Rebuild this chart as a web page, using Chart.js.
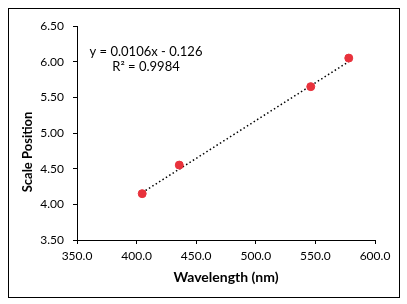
<!DOCTYPE html>
<html>
<head>
<meta charset="utf-8">
<script src="https://cdn.jsdelivr.net/npm/chart.js@4.4.1/dist/chart.umd.min.js"></script>
<style>
  html, body { margin: 0; padding: 0; background: #fff; }
  #wrap { width: 407px; height: 304px; }
</style>
</head>
<body>
<div id="wrap"><canvas id="scaleChart" width="407" height="304"></canvas></div>
<script>
// measured points
const wavelengths = [404.7, 435.8, 546.1, 578.0];
const scalePositions = [4.15, 4.55, 5.65, 6.05];
// trendline ends (as drawn in the picture)
const trendX = [404.7, 578.0];
const trendY = [4.164, 6.001];
const equationLines = ["y = 0.0106x - 0.126", "R² = 0.9984"];
const xTicks = [350, 400, 450, 500, 550, 600];
const yTicks = [3.5, 4.0, 4.5, 5.0, 5.5, 6.0, 6.5];

const FONT = "Lato, 'Open Sans', sans-serif";

const frame = {
  id: "frame",
  afterDraw(chart) {
    const ctx = chart.ctx;
    ctx.save();
    ctx.strokeStyle = "#000";
    ctx.lineWidth = 1;
    ctx.strokeRect(8.5, 8.5, 391, 289);

    ctx.fillStyle = "#000";
    ctx.font = "13px " + FONT;
    ctx.textAlign = "center";
    ctx.textBaseline = "middle";
    ctx.fillText(equationLines[0], 146, 52);
    ctx.fillText(equationLines[1], 146, 67);

    ctx.font = "bold 13px " + FONT;
    ctx.translate(28, 152);
    ctx.rotate(-Math.PI / 2);
    ctx.fillText("Scale Position", 0, 0);
    ctx.restore();
  }
};

const data = {
  datasets: [
    {
      type: "scatter",
      data: wavelengths.map((x, i) => ({ x: x, y: scalePositions[i] })),
      backgroundColor: "#E8323C",
      borderColor: "#E8323C",
      pointRadius: 4,
      order: 1,
    },
    {
      type: "line",
      data: trendX.map((x, i) => ({ x: x, y: trendY[i] })),
      borderColor: "#000",
      borderWidth: 1.5,
      borderDash: [1.5, 2.5],
      pointRadius: 0,
      fill: false,
      order: 2,
    },
  ],
};

new Chart(document.getElementById("scaleChart"), {
  data: data,
  plugins: [frame],
  options: {
    responsive: false,
    animation: false,
    layout: { padding: { left: 0, top: 26, right: 32, bottom: 0 } },
    plugins: { legend: { display: false }, tooltip: { enabled: false } },
    scales: {
      x: {
        type: "linear",
        min: 350,
        max: 600,
        afterBuildTicks: (s) => { s.ticks = xTicks.map((v) => ({ value: v })); },
        afterFit: (s) => { s.height = 64; },
        grid: { drawOnChartArea: false, tickLength: 4, color: "#000" },
        border: { color: "#000" },
        ticks: {
          color: "#000",
          font: { family: FONT, size: 12 },
          padding: 5,
          callback: (v) => Number(v).toFixed(1),
        },
        title: {
          display: true,
          text: "Wavelength (nm)",
          color: "#000",
          font: { family: FONT, size: 14, weight: "bold" },
          padding: { top: 0, bottom: 18 },
        },
      },
      y: {
        type: "linear",
        min: 3.5,
        max: 6.5,
        afterBuildTicks: (s) => { s.ticks = yTicks.map((v) => ({ value: v })); },
        afterFit: (s) => { s.width = 77; },
        grid: { drawOnChartArea: false, tickLength: 4, color: "#000" },
        border: { color: "#000" },
        ticks: {
          color: "#000",
          font: { family: FONT, size: 12 },
          padding: 9,
          callback: (v) => Number(v).toFixed(2),
        },
      },
    },
  },
});
</script>
</body>
</html>
